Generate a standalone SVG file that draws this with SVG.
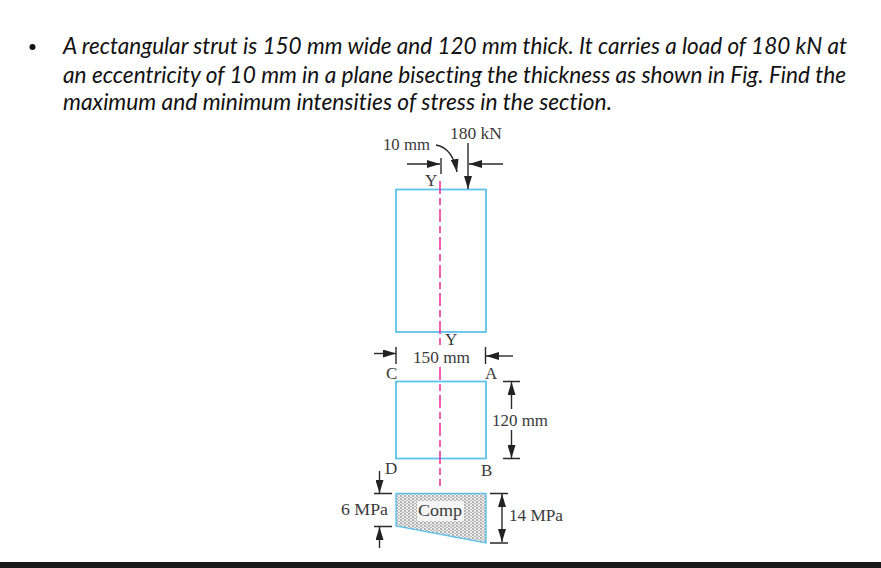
<svg xmlns="http://www.w3.org/2000/svg" width="881" height="568" viewBox="0 0 881 568">
<style>
.h{font-family:"Lato","Carlito","Open Sans",sans-serif;font-style:italic;font-size:23px;fill:#111;font-variant-ligatures:none}
.l{font-family:"Liberation Serif","Times New Roman",serif;font-size:17px;fill:#3a3a3a}
.d{stroke:#2a2a2a;stroke-width:1.4;fill:none}
.s{fill:none;stroke:#5cc3ec;stroke-width:1.8}
.c{stroke:#ee2a9c;stroke-width:1.5;fill:none}
</style>
<defs>
<marker id="a" markerUnits="userSpaceOnUse" markerWidth="13" markerHeight="8" refX="13" refY="4" orient="auto"><path d="M0 0L13 4L0 8Z" fill="#222"/></marker>
<pattern id="st" patternUnits="userSpaceOnUse" width="4" height="3"><rect width="4" height="3" fill="#efefef"/><circle cx="1" cy="1" r=".8" fill="#666"/><circle cx="3" cy="2.400" r=".6" fill="#888"/></pattern>
</defs>
<rect width="881" height="568" fill="#fff"/>
<g id="question">
<circle cx="32.500" cy="47" r="3" fill="#111"/>
<text class="h" x="63" y="54" textLength="784" lengthAdjust="spacingAndGlyphs">A rectangular strut is 150 mm wide and 120 mm thick. It carries a load of 180 kN at</text>
<text class="h" x="63" y="83" textLength="783" lengthAdjust="spacingAndGlyphs">an eccentricity of 10 mm in a plane bisecting the thickness as shown in Fig. Find the</text>
<text class="h" x="63" y="110" textLength="549" lengthAdjust="spacingAndGlyphs">maximum and minimum intensities of stress in the section.</text>
</g>
<g id="strut-elevation"><rect class="s" x="396" y="189.500" width="90" height="142.500"/></g>
<g id="strut-section"><rect class="s" x="396" y="381.500" width="90" height="77"/></g>
<g id="stress-block">
<polygon points="396,493.500 486,493.500 486,543 396,526" fill="url(#st)" stroke="#5cc3ec" stroke-width="1.400"/>
<rect x="417" y="501" width="47" height="20" fill="#f4f4f4"/>
<text class="l" x="418" y="516" textLength="44" lengthAdjust="spacingAndGlyphs">Comp</text>
</g>
<g id="connectors">
<path class="c" d="M440 181V346M440 367V486" stroke-dasharray="13 4 7 4"/>
<path class="d" d="M407 164H440" marker-end="url(#a)"/>
<path class="d" d="M441 158V174"/>
<path class="d" d="M503 164H469" marker-end="url(#a)"/>
<path class="d" d="M468 143V189" marker-end="url(#a)"/>
<path class="d" d="M436 145C448 147 454 156 457 172" marker-end="url(#a)"/>
<path class="d" d="M374 353.500H396" marker-end="url(#a)"/>
<path class="d" d="M396 347V364M485.500 347V364"/>
<path class="d" d="M513 356H486" marker-end="url(#a)"/>
<path class="d" d="M503 381.500H520M503 458.500H520"/>
<path class="d" d="M511.500 409V382" marker-end="url(#a)"/>
<path class="d" d="M511.500 430V458" marker-end="url(#a)"/>
<path class="d" d="M379.500 471V493" marker-end="url(#a)"/>
<path class="d" d="M374 493.500H392M374 526.500H392"/>
<path class="d" d="M379.500 548V527" marker-end="url(#a)"/>
<path class="d" d="M490 493.500H508M490 543H508"/>
<path class="d" d="M502 518V494" marker-end="url(#a)"/>
<path class="d" d="M502 518V542" marker-end="url(#a)"/>
</g>
<g id="labels">
<text class="l" x="450" y="139" textLength="52" lengthAdjust="spacingAndGlyphs">180 kN</text>
<text class="l" x="383" y="150" textLength="47" lengthAdjust="spacingAndGlyphs">10 mm</text>
<text class="l" x="425" y="186">Y</text>
<text class="l" x="445" y="345" font-size="15">Y</text>
<text class="l" x="413" y="363" textLength="57" lengthAdjust="spacingAndGlyphs" style="font-size:16px">150 mm</text>
<text class="l" x="386" y="379">C</text>
<text class="l" x="485" y="379">A</text>
<text class="l" x="492" y="426" textLength="56" lengthAdjust="spacingAndGlyphs">120 mm</text>
<text class="l" x="385" y="474">D</text>
<text class="l" x="481" y="476">B</text>
<text class="l" x="341" y="515" textLength="47" lengthAdjust="spacingAndGlyphs">6 MPa</text>
<text class="l" x="509" y="521" textLength="54" lengthAdjust="spacingAndGlyphs">14 MPa</text>
</g>
<rect id="bottom-bar" x="0" y="562" width="881" height="6" fill="#191919"/>
</svg>
